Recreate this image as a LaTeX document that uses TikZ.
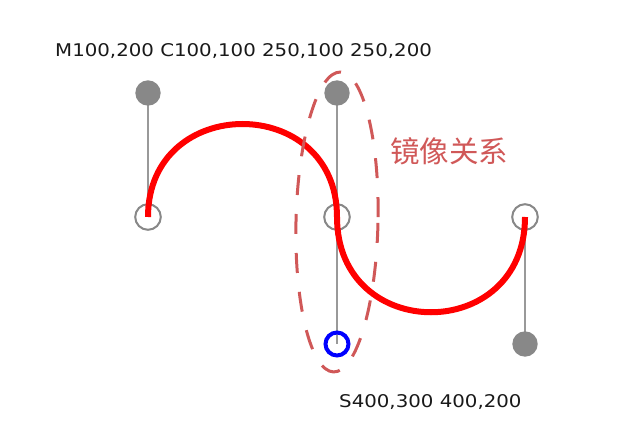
\documentclass[tikz,border=0pt]{standalone}
\usepackage{fontspec}
\newfontfamily\labelfont[FakeStretch=1.13]{DejaVu Sans}
\newfontfamily\cjk{Noto Sans CJK SC}
\definecolor{ptgray}{RGB}{136,136,136}
\definecolor{hdlgray}{RGB}{153,153,153}
\definecolor{mirror}{RGB}{208,88,88}

\begin{document}
\begin{tikzpicture}[x=1pt,y=-1pt,
    handle/.style={hdlgray,line width=2pt},
    endpt/.style={ptgray,line width=2pt},
    ctrlpt/.style={fill=ptgray},
    curve/.style={red,line width=6pt},
    pathtext/.style={font=\labelfont\fontsize{17.5}{20}\selectfont,inner sep=0pt,text=black!90}]
    \useasboundingbox (0,0) rectangle (618,438);
    % end points
    \foreach \i/\x in {0/148,1/337,2/525}
    { \path (\x,217) coordinate (p\i); }
    % control points
    \path (148,93) coordinate (c1);
    \path (337,93) coordinate (c2);
    \path (337,344) coordinate (c3);
    \path (525,344) coordinate (c4);
    \draw[handle] (c1) -- (p0) (c2) -- (p1) -- (c3) (p2) -- (c4);
    \foreach \i in {0,1,2}
    { \draw[endpt] (p\i) circle (12.8); }
    \draw[curve] (p0) .. controls (c1) and (c2) .. (p1)
        .. controls (c3) and (c4) .. (p2);
    \foreach \i in {1,2,4}
    { \fill[ctrlpt] (c\i) circle (12.7); }
    \draw[blue,line width=4pt] (c3) circle (11.5);

    % mirror
    \path (337,222) coordinate (m);
    \draw[mirror,line width=3pt,dash pattern=on 20pt off 19pt,
        rotate around={-1.3:(m)}] (m) ellipse [x radius=41, y radius=150];
    \node[text=mirror,font=\cjk\fontsize{29.5}{32}\selectfont,inner sep=0pt] (mtext) at (449,151) {镜像关系};

    % labels
    \node[pathtext,anchor=base west] (mtext1) at (55,57) {M100,200 C100,100 250,100 250,200};
    \node[pathtext,anchor=base west] (stext) at (339,407) {S400,300 400,200};
\end{tikzpicture}
\end{document}
